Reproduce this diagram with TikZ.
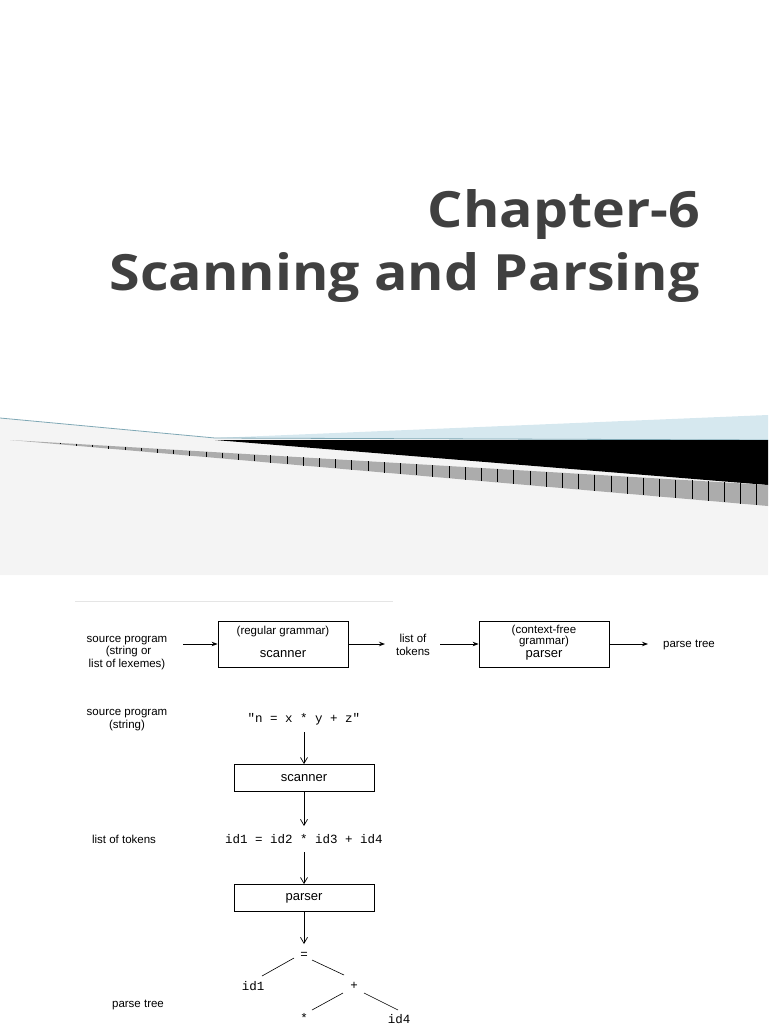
\documentclass[tikz,border=0pt]{standalone}
\usepackage{fontspec}
\setmainfont{Liberation Sans}
\newfontfamily\titlefont{Open Sans}
\newfontfamily\codefont{Liberation Mono}
\usetikzlibrary{arrows.meta}
\definecolor{titlegray}{HTML}{404040}
\definecolor{lightblue}{HTML}{D6E8EF}
\definecolor{edgeblue}{HTML}{7FA8B5}
\tikzset{
  x=1pt,y=-1pt,
  ttl/.style={anchor=base east, text=titlegray, font=\titlefont\bfseries\fontsize{50}{56}\selectfont, inner sep=0pt, xscale=1.11},
  lbl/.style={font=\fontsize{11.5}{12.5}\selectfont, align=center, inner sep=0pt},
  code/.style={font=\codefont\fontsize{12.5}{13}\selectfont, inner sep=0pt},
  proc/.style={draw, line width=0.8pt, inner sep=0pt, font=\fontsize{13}{14}\selectfont, align=center},
  harr/.style={-{Stealth[length=6pt]}, line width=0.9pt},
  varr/.style={-{Straight Barb[length=6pt,width=7pt]}, line width=0.7pt},
  edge/.style={line width=0.6pt}
}
\begin{document}
\begin{tikzpicture}
\useasboundingbox (0,0) rectangle (768,1024);
\clip (0,0) rectangle (768,1024);
% title
\node[ttl] (t1) at (700,227) {Chapter-6};
\node[ttl] (t2) at (700,290) {Scanning and Parsing};
% banner
\fill[gray!9] (0,418) -- (215,438) -- (768,440) -- (768,575) -- (0,575) -- cycle;
\fill[lightblue] (215,438) -- (768,415) -- (768,440) -- cycle;
\draw[edgeblue, line width=0.8pt] (0,418) -- (215,438) -- (768,440);
\fill[black] (215,440) -- (768,440) -- (768,485) -- cycle;
\fill[gray!65] (10,440) -- (768,485) -- (768,506) -- cycle;
\foreach \i in {0,...,44} {
  \pgfmathsetmacro{\xx}{60+\i*16.2}
  \pgfmathsetmacro{\ya}{440+(\xx-10)/758*45}
  \pgfmathsetmacro{\yb}{440+(\xx-10)/758*66}
  \draw[black, line width=0.5pt] (\xx,\ya) -- (\xx,\yb);
}
% diagram separator
\draw[gray!20, line width=0.8pt] (75,601) -- (393,601);
% horizontal pipeline
\node[lbl] (src) at (127,653) {source program\\\ (string or\\list of lexemes)};
\node[proc, minimum width=130pt, minimum height=46pt] (scan) at (283,644) {};
\node[lbl] (scanA) at (283,632) {(regular grammar)};
\node[lbl, font=\fontsize{13}{14}\selectfont] (scanB) at (283,654) {scanner};
\node[lbl] (tok) at (413,645) {list of\\tokens};
\node[proc, minimum width=130pt, minimum height=46pt] (pars) at (544,644) {};
\node[lbl, font=\fontsize{11.5}{10}\selectfont] (parsA) at (544,636) {(context-free\\grammar)};
\node[lbl, font=\fontsize{13}{14}\selectfont] (parsB) at (544,655) {parser};
\node[lbl] (pt) at (689,645) {parse tree};
\coordinate (srcE) at (183,644);
\coordinate (tokW) at (440,644);
\coordinate (tokE0) at (385,644);
\coordinate (ptW) at (648,644);
\draw[harr] (srcE) -- (scan.west);
\draw[harr] (scan.east) -- (tokE0);
\draw[harr] (tokW) -- (pars.west);
\draw[harr] (pars.east) -- (ptW);
% vertical pipeline
\node[lbl] (src2) at (127,720) {source program\\(string)};
\node[code] (str) at (304,719) {"n = x * y + z"};
\node[proc, minimum width=140pt, minimum height=27pt] (scan2) at (304,778) {scanner};
\node[lbl] (tok2) at (124,839) {list of tokens};
\node[code] (ids) at (304,839) {id1 = id2 * id3 + id4};
\node[proc, minimum width=140pt, minimum height=27pt] (pars2) at (304,898) {parser};
\node[lbl] (pt2) at (138,1005) {parse tree};
\draw[varr] (304,732) -- (scan2.north);
\draw[varr] (scan2.south) -- (304,826);
\draw[varr] (304,852) -- (pars2.north);
\node[code] (eq) at (304,955) {=};
\draw[varr] (pars2.south) -- (304,944);
\node[code] (n1) at (253,986) {id1};
\node[code] (plus) at (354,986) {+};
\node[code] (star) at (304,1018) {*};
\node[code] (n4) at (399,1019) {id4};
\draw[edge] (294,958) -- (262,976);
\draw[edge] (312,960) -- (344,975);
\draw[edge] (343,993) -- (312,1010);
\draw[edge] (364,993) -- (398,1010);
\end{tikzpicture}
\end{document}
